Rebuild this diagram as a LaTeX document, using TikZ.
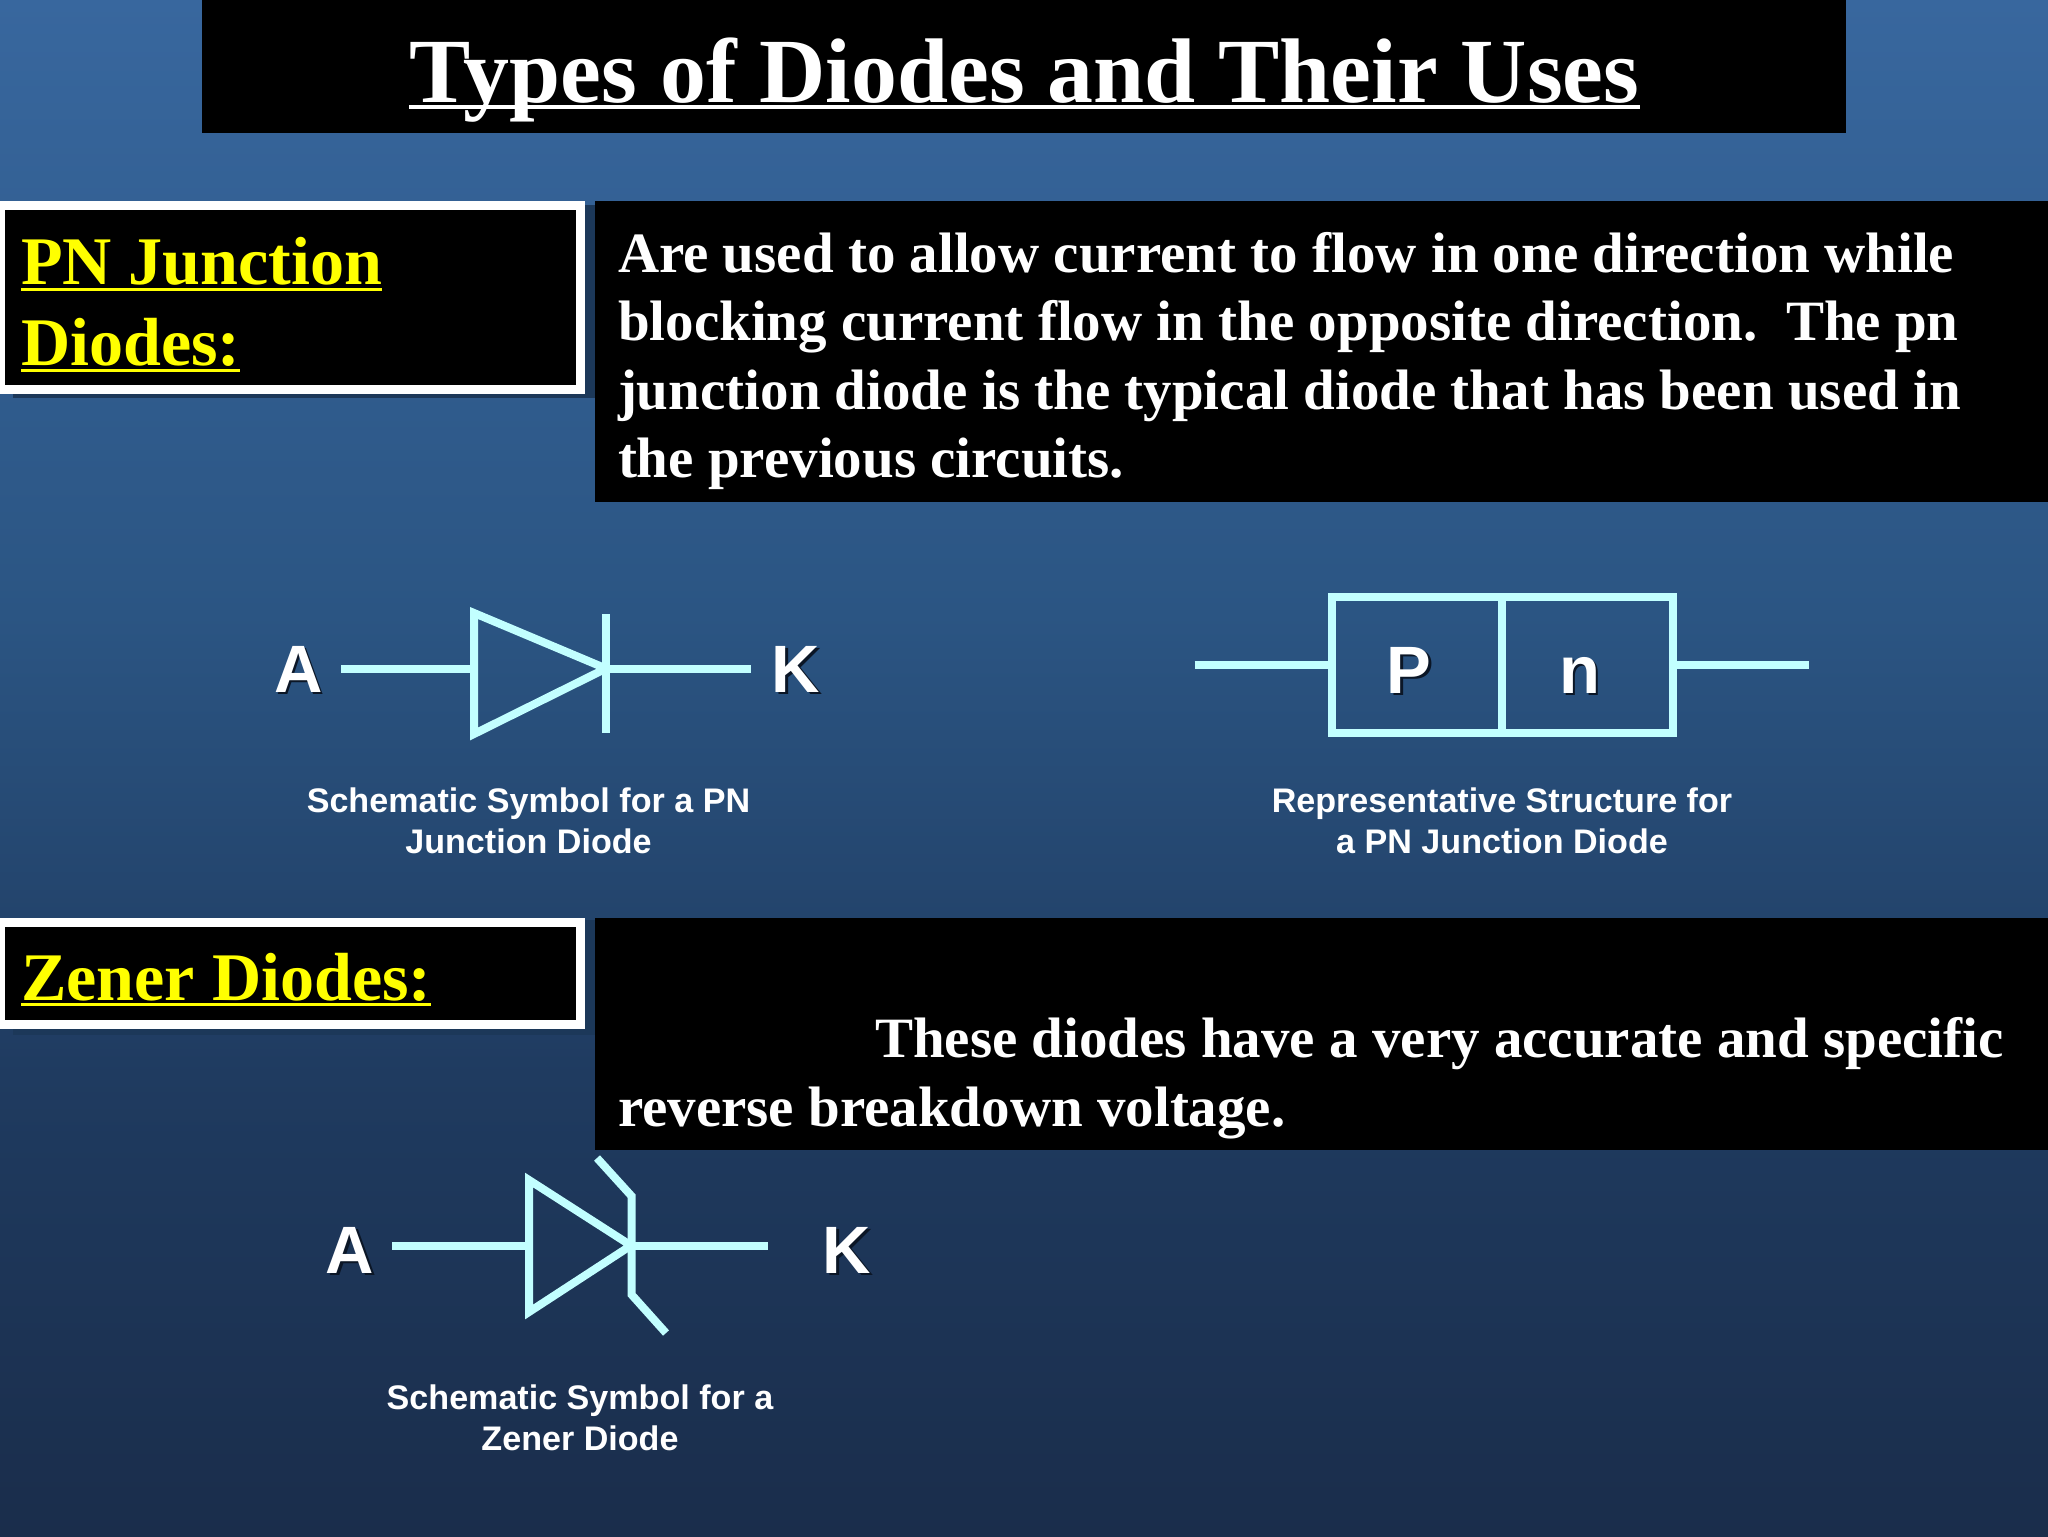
\documentclass[tikz,border=0pt]{standalone}
\usepackage{fontspec}
\setmainfont{Liberation Serif}
\setsansfont{Liberation Sans}
\definecolor{wirecol}{HTML}{C2FFFF}
\definecolor{heady}{HTML}{FFFF00}
\definecolor{dropcol}{HTML}{1C3859}
\definecolor{textshadow}{HTML}{0B1626}
\definecolor{bgA}{HTML}{38679E}
\definecolor{bgB}{HTML}{2B5583}
\definecolor{bgC}{HTML}{1F3B60}
\definecolor{bgD}{HTML}{1A2D4B}
\pgfdeclareverticalshading{slidebg}{100bp}{
 color(0bp)=(bgD); color(25bp)=(bgD); color(40bp)=(bgC); color(55bp)=(bgB); color(75bp)=(bgA); color(100bp)=(bgA)}
% underlined text: rule drawn below the baseline
\newcommand\ulbox[3]{\setbox0=\hbox{#3}\rlap{\rule[-#1pt]{\wd0}{#2pt}}\box0}
\newcommand\capshadow[1]{\rlap{\hspace{1.2pt}\raisebox{-1.2pt}{\color{textshadow}#1}}#1}
\tikzset{
 panel/.style={fill=black,draw=none,inner sep=0pt,outer sep=0pt},
 headbox/.style={fill=black,draw=white,line width=4.5pt,inner sep=0pt,outer sep=0pt},
 drop/.style={fill=dropcol,draw=none,inner sep=0pt,outer sep=0pt},
 wire/.style={draw=wirecol,line width=4pt,line cap=butt,line join=miter},
 serifw/.style={inner sep=0pt,outer sep=0pt,anchor=base west,text=white,font=\fontsize{28.5}{34.15}\selectfont\bfseries,align=left},
 heading/.style={inner sep=0pt,outer sep=0pt,anchor=base west,text=heady,font=\fontsize{34.05}{40.5}\selectfont\bfseries,align=left},
 letter/.style={inner sep=0pt,outer sep=0pt,anchor=base,text=white,font=\fontsize{33.5}{40}\selectfont\sffamily\bfseries},
 caption/.style={inner sep=0pt,outer sep=0pt,anchor=base,text=white,font=\fontsize{17.05}{20.2}\selectfont\sffamily\bfseries,align=center},
}
\begin{document}
\begin{tikzpicture}[x=0.5pt,y=-0.5pt]
\clip (0,0) rectangle (2048,1536);
\shade[shading=slidebg] (0,0) rectangle (2048,1536);
% title
\node[panel,minimum width=822pt,minimum height=66.5pt] (titlebox) at (1024,66.5) {};
\node[inner sep=0pt,anchor=base,text=white,font=\fontsize{45.9}{50}\selectfont\bfseries] (title) at (1024.5,103) {\ulbox{3}{1.8}{Types of Diodes and Their Uses}};
% PN section
\node[drop,minimum width=291pt,minimum height=96.5pt] (pnshadow) at (303.5,301) {};
\node[headbox,minimum width=290pt,minimum height=92pt] (pnhead) at (290.5,297) {};
\node[heading] (pntext) at (21,365.5) {\ulbox{3.2}{1.7}{PN Junction}\\\ulbox{3.2}{1.7}{Diodes:}};
\node[panel,minimum width=726.75pt,minimum height=150.25pt] (pndesc) at (1321.25,351.25) {};
\node[serifw] (pnbody) at (618,477.5) {Are used to allow current to flow in one direction while\\blocking current flow in the opposite direction.\ \ The pn\\junction diode is the typical diode that has been used in\\the previous circuits.};
% PN symbol
\coordinate (a1) at (341,668.5);
\coordinate (k1) at (751,668.5);
\coordinate (t1a) at (474,613);
\coordinate (t1b) at (474,734);
\coordinate (t1c) at (606,668.5);
\coordinate (b1a) at (606,614);
\coordinate (b1b) at (606,733);
\node[letter] (la1) at (298.5,692) {\capshadow{A}};
\node[letter] (lk1) at (796,692) {\capshadow{K}};
\draw[wire] (a1) -- (474,668.5);
\draw[wire] (t1c) -- (k1);
\draw[wire] (t1a) -- (t1c) -- (t1b) -- cycle;
\draw[wire] (b1a) -- (b1b);
\node[caption] (cap1) at (528.5,853) {Schematic Symbol for a PN\\Junction Diode};
% structure
\node[draw=wirecol,line width=4pt,minimum width=170.5pt,minimum height=68pt,inner sep=0pt,outer sep=0pt] (pnblock) at (1502,665) {};
\draw[wire] (pnblock.north) -- (pnblock.south);
\coordinate (s1) at (1194.5,665);
\coordinate (s2) at (1809,665);
\draw[wire] (s1) -- (pnblock.west);
\draw[wire] (pnblock.east) -- (s2);
\node[letter] (lp) at (1409,693) {\capshadow{P}};
\node[letter] (ln) at (1580,693) {\capshadow{n}};
\node[caption] (cap2) at (1502,853) {Representative Structure for\\a PN Junction Diode};
% Zener section
\node[drop,minimum width=291pt,minimum height=57.5pt] (zshadow) at (303.5,977) {};
\node[headbox,minimum width=290pt,minimum height=51pt] (zhead) at (290.5,973) {};
\node[heading] (ztext) at (21,1000) {\ulbox{3.2}{1.7}{Zener Diodes:}};
\node[panel,minimum width=726.75pt,minimum height=115.75pt] (zdesc) at (1321.25,1033.75) {};
\node[serifw] (zb1) at (875,1057.5) {These diodes have a very accurate and specific};
\node[serifw] (zb2) at (618,1126) {reverse breakdown voltage.};
% Zener symbol
\coordinate (a2) at (392,1245.5);
\coordinate (k2) at (768,1245.5);
\coordinate (t2a) at (529,1180);
\coordinate (t2b) at (529,1312);
\coordinate (t2c) at (631,1245.5);
\coordinate (b2a) at (631.5,1196);
\coordinate (b2b) at (631.5,1294.5);
\coordinate (w2a) at (597,1158);
\coordinate (w2b) at (666,1333);
\node[letter] (la2) at (350,1273) {\capshadow{A}};
\node[letter] (lk2) at (847,1273) {\capshadow{K}};
\draw[wire] (a2) -- (529,1245.5);
\draw[wire] (t2c) -- (k2);
\draw[wire] (t2a) -- (t2c) -- (t2b) -- cycle;
\draw[wire] (w2a) -- (b2a) -- (b2b) -- (w2b);
\node[caption] (cap3) at (580,1450) {Schematic Symbol for a\\Zener Diode};
\end{tikzpicture}
\end{document}
